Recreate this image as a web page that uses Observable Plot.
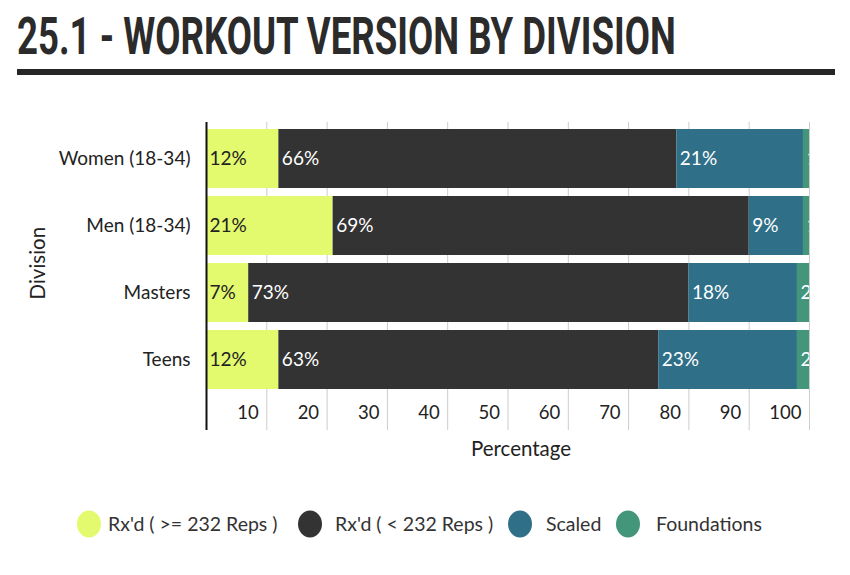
<!DOCTYPE html>
<html>
<head>
<meta charset="utf-8">
<script src="https://cdn.jsdelivr.net/npm/d3@7"></script>
<script src="https://cdn.jsdelivr.net/npm/@observablehq/plot@0.6"></script>
<style>
  html, body { margin: 0; padding: 0; background: #fff; width: 850px; height: 575px; overflow: hidden; }
  #title { position: absolute; left: 0; top: 0; }
  #chart { position: absolute; left: 0; top: 100px; }
  #legend { position: absolute; left: 0; top: 508px; width: 850px; height: 32px; }
  text { font-family: Lato, "Noto Sans", sans-serif; }
</style>
</head>
<body>
<svg id="title" width="850" height="90">
  <text id="titleText" x="0" y="0"
        style="font-family: Roboto, sans-serif; font-weight: 700; font-size: 36px; fill: #2b2b2b;">25.1 - WORKOUT VERSION BY DIVISION</text>
  <rect x="17" y="69" width="818" height="6" fill="#262626"></rect>
</svg>
<div id="chart"></div>
<svg id="legend" width="850" height="32"></svg>
<script>
const divisions = ["Women (18-34)", "Men (18-34)", "Masters", "Teens"];
const versions = ["Rx'd ( >= 232 Reps )", "Rx'd ( < 232 Reps )", "Scaled", "Foundations"];
const rxHigh = [12, 21, 7, 12];
const rxLow = [66, 69, 73, 63];
const scaled = [21, 9, 18, 23];
const foundations = [1, 1, 2, 2];
const xTicks = [10, 20, 30, 40, 50, 60, 70, 80, 90, 100];
const colors = ["#e3f96e", "#333333", "#2f6f88", "#44967b"];
const labelColors = ["#222222", "#ffffff", "#ffffff", "#ffffff"];

// Title: fit to the reference width with a condensed look
const tt = document.getElementById("titleText");
const natural = tt.getComputedTextLength();
const sx = 659 / natural;
tt.setAttribute("transform", `translate(17,54) scale(${sx},1.44)`);

const seriesValues = [rxHigh, rxLow, scaled, foundations];
const data = [];
divisions.forEach((div, i) => {
  versions.forEach((v, j) => {
    data.push({division: div, version: v, value: seriesValues[j][i], vi: j});
  });
});

const chart = Plot.plot({
  width: 850,
  height: 375,
  marginLeft: 206,
  marginRight: 41,
  marginTop: 22,
  marginBottom: 45,
  style: {fontFamily: "Lato, 'Noto Sans', sans-serif", fontSize: "19px", color: "#222"},
  x: {domain: [0, 100], axis: null},
  y: {domain: divisions, range: [25, 293], paddingInner: 0.12, paddingOuter: 0.06, axis: null},
  color: {domain: versions, range: colors},
  marks: [
    Plot.gridX(xTicks, {stroke: "#cccccc", strokeOpacity: 1, strokeWidth: 1}),
    Plot.barX(data, Plot.stackX({x: "value", y: "division", fill: "version", z: "version", inset: 0})),
    Plot.text(data, Plot.stackX1({
      x: "value", y: "division", z: "version",
      text: d => d.value + "%",
      fill: d => labelColors[d.vi],
      textAnchor: "start", dx: 3, fontSize: 19, clip: "frame"
    })),
    Plot.ruleX([0], {stroke: "#111", strokeWidth: 2}),
    Plot.axisY({tickSize: 0, tickPadding: 16, label: null, fontSize: 19}),
    Plot.text(xTicks, {x: d => d, text: d => String(d), frameAnchor: "bottom", dy: -12, dx: -8, textAnchor: "end", fontSize: 18.5, fill: "#222"}),
    Plot.text(["Percentage"], {frameAnchor: "bottom", dy: 25, dx: 13, fontSize: 20.5, fill: "#222"}),
    Plot.text(["Division"], {frameAnchor: "left", dx: -168, dy: 23, rotate: -90, fontSize: 20.5, fill: "#222"})
  ]
});
document.getElementById("chart").appendChild(chart);

// Legend
const legend = d3.select("#legend");
const legendX = [89, 310, 520, 628];
const textOffset = [19, 25, 26, 28];
const g = legend.selectAll("g").data(versions).join("g")
  .attr("transform", (d, i) => `translate(${legendX[i]},16)`);
g.append("ellipse").attr("rx", 12).attr("ry", 13.5).attr("fill", (d, i) => colors[i]);
g.append("text").attr("x", (d, i) => textOffset[i]).attr("y", 7)
  .style("font-size", "19.5px").style("fill", "#333").text(d => d);
</script>
</body>
</html>
